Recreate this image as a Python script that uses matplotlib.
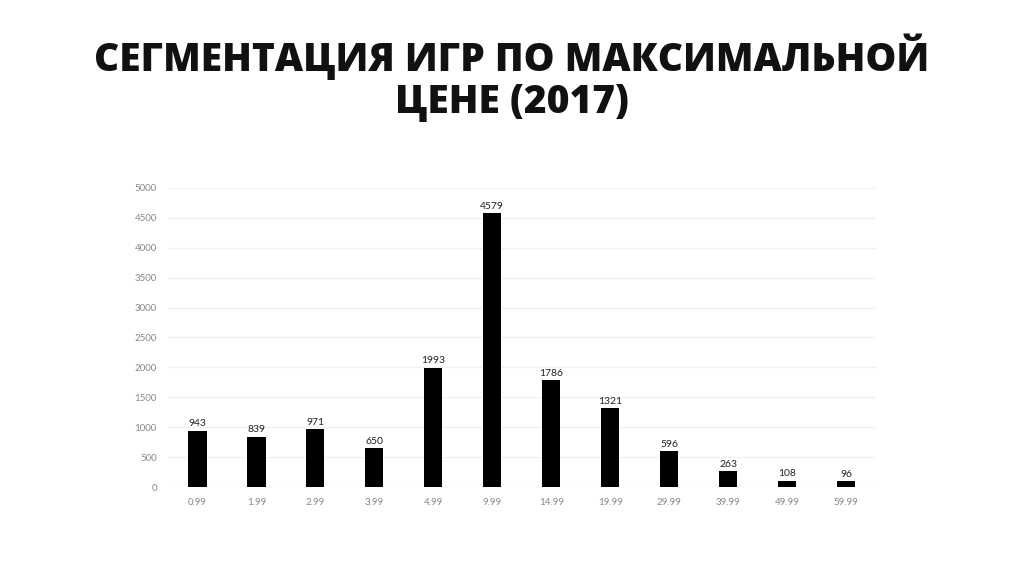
import matplotlib
matplotlib.use('Agg')
import matplotlib.pyplot as plt

# данные
prices = ['0.99', '1.99', '2.99', '3.99', '4.99', '9.99', '14.99', '19.99',
          '29.99', '39.99', '49.99', '59.99']
counts = [943, 839, 971, 650, 1993, 4579, 1786, 1321, 596, 263, 108, 96]
yticks = [0, 500, 1000, 1500, 2000, 2500, 3000, 3500, 4000, 4500, 5000]

fig = plt.figure(figsize=(10.24, 5.73), dpi=100)
fig.patch.set_facecolor('white')

fig.text(0.5, 0.865, 'СЕГМЕНТАЦИЯ ИГР ПО МАКСИМАЛЬНОЙ\nЦЕНЕ (2017)',
         ha='center', va='center', fontsize=28, fontweight='heavy',
         family='Open Sans', color='#111111', linespacing=1.1)

ax = fig.add_axes([0.164, 0.150, 0.691, 0.522])
x = range(len(prices))
bars = ax.bar(x, counts, width=0.31, color='black', zorder=3)

for xi, v in zip(x, counts):
    ax.text(xi, v + 40, str(v), ha='center', va='bottom', fontsize=7.5,
            family='Lato', color='#222222')

ax.set_xlim(-0.5, len(prices) - 0.5)
ax.set_ylim(0, 5000)
ax.set_yticks(yticks)
ax.set_xticks(list(x))
ax.set_xticklabels(prices)
ax.tick_params(axis='both', length=0, labelsize=7, labelcolor='#888888', pad=8)
for lab in ax.get_xticklabels() + ax.get_yticklabels():
    lab.set_family('Lato')
ax.grid(axis='y', color='#f0f0f0', linewidth=0.8, zorder=0)
for s in ax.spines.values():
    s.set_visible(False)
ax.axhline(0, color='#e6e6e6', linewidth=0.8, zorder=2)

plt.savefig('out.png', dpi=100)
